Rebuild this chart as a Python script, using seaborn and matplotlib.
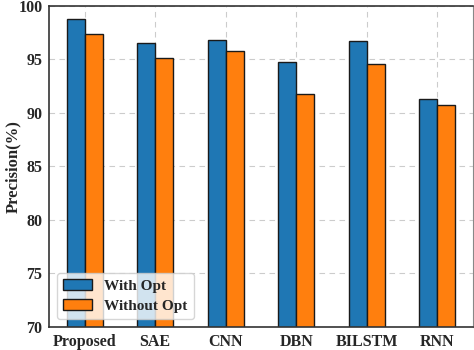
import pandas as pd
import matplotlib.pyplot as plt
import seaborn as sns

# Precision values
models = ['Proposed', 'SAE', 'CNN', 'DBN', 'BILSTM', 'RNN']
with_opt = [98.8, 96.5, 96.8, 94.8, 96.7, 91.3]
without_opt = [97.4, 95.1, 95.8, 91.8, 94.6, 90.7]

df = pd.DataFrame({
    'Model': models * 2,
    'Precision': with_opt + without_opt,
    'Type': ['With Opt'] * len(models) + ['Without Opt'] * len(models),
})

sns.set_style('whitegrid')
plt.rcParams['font.family'] = ['Liberation Serif', 'DejaVu Serif']
plt.rcParams['font.weight'] = 'bold'

fig, ax = plt.subplots(figsize=(4.74, 3.5), dpi=100)
sns.barplot(x='Model', y='Precision', hue='Type', data=df, ax=ax,
            palette=['#1f77b4', '#ff7f0e'], width=0.51, gap=0,
            edgecolor='#1a1a1a', linewidth=1.0, saturation=1)

ax.set_ylim(70, 100)
ax.set_xlabel('')
ax.set_ylabel('Precision(%)', fontsize=12, fontweight='bold')
ax.yaxis.set_label_coords(-0.066, 0.5)
ax.tick_params(axis='both', labelsize=11.5, length=3, pad=2, color='#333333')
for lbl in ax.get_xticklabels() + ax.get_yticklabels():
    lbl.set_fontweight('bold')

ax.grid(True, linestyle=(0, (5, 4)), color='#cccccc', linewidth=0.8)
for side in ['left', 'bottom', 'top']:
    ax.spines[side].set_color('#333333')
    ax.spines[side].set_linewidth(1.2)
ax.spines['right'].set_color('#888888')

ax.legend(loc='lower left', prop={'weight': 'bold', 'size': 11},
          frameon=True, framealpha=0.8, edgecolor='#cccccc',
          handlelength=1.9, handletextpad=0.8, labelspacing=0.45,
          borderaxespad=0.5)

plt.subplots_adjust(left=0.104, right=0.997, top=0.983, bottom=0.066)
plt.savefig('out.png', dpi=100)
